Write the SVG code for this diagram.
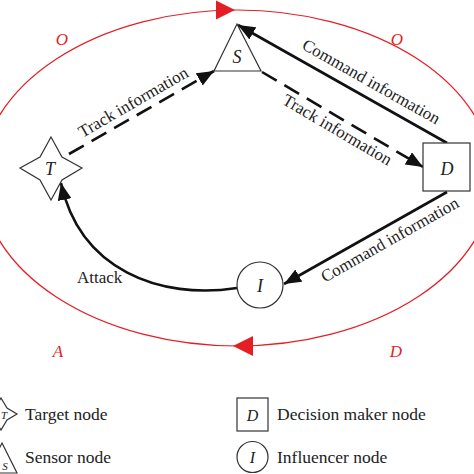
<svg xmlns="http://www.w3.org/2000/svg" width="474" height="474" viewBox="0 0 474 474">
<defs>
<style>
.lbl{font-family:"Liberation Serif","Times New Roman",serif;font-size:17px;fill:#222}
.nl{font-family:"Liberation Serif","Times New Roman",serif;font-style:italic;font-size:18px;fill:#222;text-anchor:middle}
.red{font-family:"Liberation Serif","Times New Roman",serif;font-style:italic;font-size:17px;fill:#e31e24;text-anchor:middle}
.node{fill:#fff;stroke:#333;stroke-width:1.2}
.conn{fill:none;stroke:#111;stroke-width:2.6}
.dash{stroke-dasharray:17 9}
</style>
<marker id="ah" markerUnits="userSpaceOnUse" markerWidth="18" markerHeight="14" refX="17" refY="7" orient="auto">
<path d="M0,0 L17,7 L0,14 z" fill="#111"/>
</marker>
</defs>
<rect width="474" height="474" fill="#fff"/>
<g id="cycle">
<ellipse cx="237" cy="178" rx="256" ry="168" fill="none" stroke="#e31e24" stroke-width="1.2"/>
<polygon points="235,10 216,0.5 216,19.5" fill="#e31e24"/>
<polygon points="233,346 253,336 253,356" fill="#e31e24"/>
<text class="red" x="62" y="45">O</text>
<text class="red" x="397" y="45">O</text>
<text class="red" x="58" y="357">A</text>
<text class="red" x="396" y="357">D</text>
</g>
<g id="connectors">
<line class="conn dash" x1="69" y1="154" x2="214" y2="71" marker-end="url(#ah)"/>
<line class="conn dash" x1="262" y1="72" x2="423" y2="167" marker-end="url(#ah)"/>
<line class="conn" x1="447" y1="143" x2="238" y2="25" marker-end="url(#ah)"/>
<line class="conn" x1="447" y1="192" x2="284" y2="284" marker-end="url(#ah)"/>
<path class="conn" d="M237,288 C160,300 80,270 61,183" marker-end="url(#ah)"/>
<text class="lbl" text-anchor="middle" x="136" y="107" transform="rotate(-30 136 107)">Track information</text>
<text class="lbl" text-anchor="middle" x="368.5" y="86.5" transform="rotate(29.5 368.5 86.5)">Command information</text>
<text class="lbl" text-anchor="middle" x="334.5" y="134.5" transform="rotate(30.5 334.5 134.5)">Track information</text>
<text class="lbl" text-anchor="middle" x="392.5" y="244.5" transform="rotate(-29.5 392.5 244.5)">Command information</text>
<text class="lbl" x="77" y="283">Attack</text>
</g>
<g id="node-T">
<polygon class="node" points="51,137 62,157 82,168 62,180 51,200 40,180 20,168 40,157"/>
<text class="nl" x="50" y="175">T</text>
</g>
<g id="node-S">
<polygon class="node" points="237,24 261,71 214,71"/>
<text class="nl" x="237" y="63">S</text>
</g>
<g id="node-D">
<rect class="node" x="423" y="143" width="47" height="48"/>
<text class="nl" x="447" y="175">D</text>
</g>
<g id="node-I">
<circle class="node" cx="260" cy="285" r="23"/>
<text class="nl" x="260" y="292">I</text>
</g>
<g id="legend">
<polygon class="node" points="1,398 7,408 17,414 7,420 1,430 -5,420 -15,414 -5,408"/>
<text class="nl" x="4" y="419" style="font-size:11px">T</text>
<text class="lbl" x="25" y="420" style="font-size:17.5px">Target node</text>
<polygon class="node" points="2,443 17,473 -13,473"/>
<text class="nl" x="5" y="470" style="font-size:11px">S</text>
<text class="lbl" x="25" y="463" style="font-size:17.5px">Sensor node</text>
<rect class="node" x="237" y="398" width="31" height="33"/>
<text class="nl" x="252.5" y="421" style="font-size:16px">D</text>
<text class="lbl" x="277" y="420" style="font-size:17.5px">Decision maker node</text>
<circle class="node" cx="252.5" cy="457" r="15.5"/>
<text class="nl" x="252.5" y="463" style="font-size:16px">I</text>
<text class="lbl" x="277" y="463" style="font-size:17.5px">Influencer node</text>
</g>
</svg>
